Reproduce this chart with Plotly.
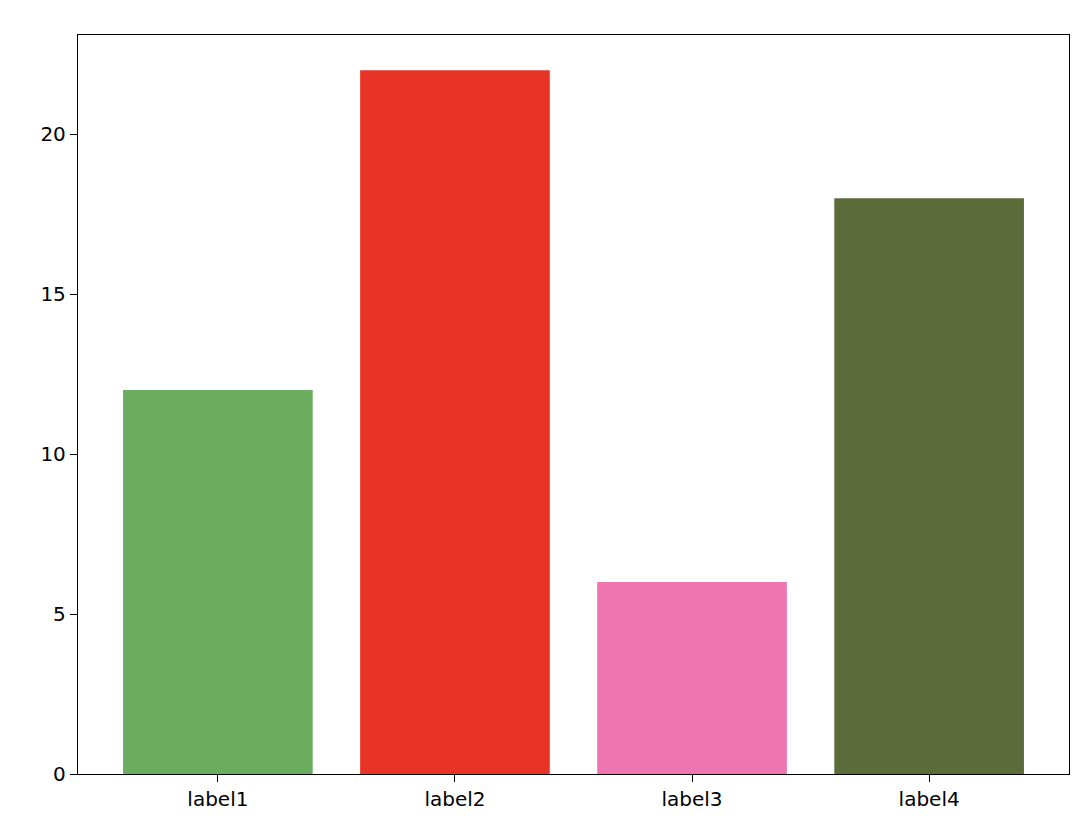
import plotly.graph_objects as go

categories = ["label1", "label2", "label3", "label4"]
values = [12, 22, 6, 18]
colors = ["#6aad5e", "#e83426", "#ee74b2", "#5b6b39"]

fig = go.Figure(go.Bar(x=list(range(len(categories))), y=values, marker_color=colors,
                       marker_line_width=0, width=0.8))
axis_common = dict(showline=True, linecolor="black", linewidth=1.3, mirror=True,
                   ticks="outside", ticklen=7, tickcolor="black", showgrid=False, zeroline=False,
                   tickfont=dict(family="DejaVu Sans", size=20, color="black"))
fig.update_xaxes(range=[-0.59, 3.59], tickvals=list(range(len(categories))), ticktext=categories, **axis_common)
fig.update_yaxes(range=[0, 23.1], tickvals=[0, 5, 10, 15, 20], **axis_common)
fig.update_layout(width=1080, height=838, margin=dict(l=70, r=19, t=27, b=72),
                  plot_bgcolor="white", paper_bgcolor="white", showlegend=False)
fig.write_html("out.html")
